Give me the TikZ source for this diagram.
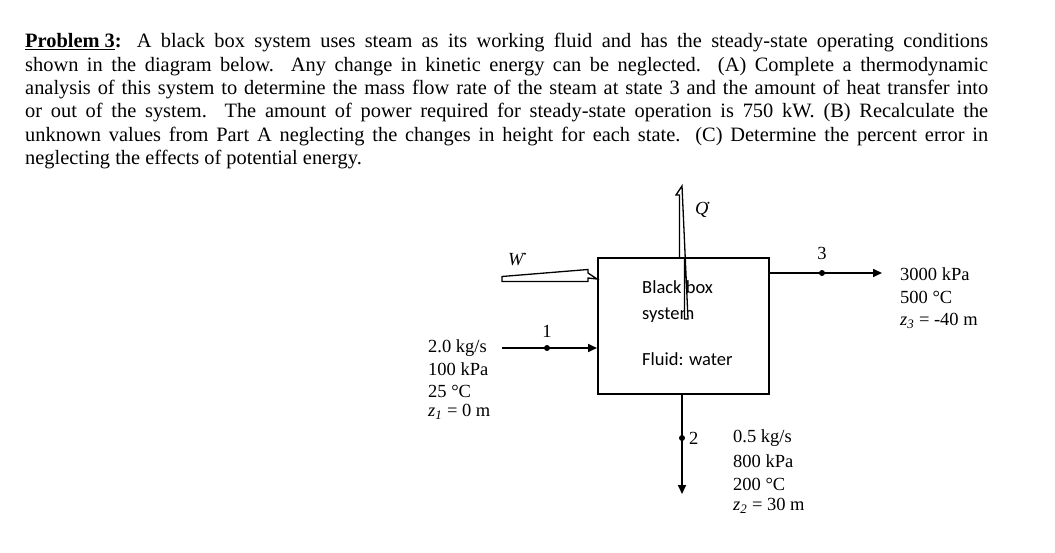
\documentclass[tikz,border=0pt]{standalone}
\usepackage{fontspec}
\setmainfont{Liberation Serif}
\newfontfamily\calfont{Carlito}
\usetikzlibrary{arrows.meta}
\begin{document}
\begin{tikzpicture}[x=1pt,y=-1pt,
  lbl/.style={inner sep=0pt,anchor=west,font=\fontsize{18.5}{20}\selectfont},
  cl/.style={inner sep=0pt,anchor=west,font=\calfont\fontsize{18.5}{20}\selectfont},
  flow/.style={line width=1.6pt,-{Triangle[length=9pt,width=8pt]}},
  dbl/.style={line width=1.3pt,fill=white},
  dot/.style={circle,fill,inner sep=0pt,minimum size=6pt},
  para/.style={inner sep=0pt,anchor=base west,font=\fontsize{20.4}{23}\selectfont}]
\useasboundingbox (0,0) rectangle (1055,553);
\foreach \t [count=\i] in {%
{\underline{\textbf{Problem 3}}\textbf{:} A black box system uses steam as its working fluid and has the steady-state operating conditions},
{shown in the diagram below. Any change in kinetic energy can be neglected. (A) Complete a thermodynamic},
{analysis of this system to determine the mass flow rate of the steam at state 3 and the amount of heat transfer into},
{or out of the system. The amount of power required for steady-state operation is 750 kW. (B) Recalculate the},
{unknown values from Part A neglecting the changes in height for each state. (C) Determine the percent error in}}
  \node[para] (p\i) at (25,{48+23.3*(\i-1)}) {\hbox to 963pt{\t}};
\node[para] (p6) at (25,{48+23.3*5}) {neglecting the effects of potential energy.};
\node[draw,line width=1.6pt,minimum width=171pt,minimum height=136pt,anchor=north west,inner sep=0pt] (box) at (597,257) {};
\node[cl] (t1) at (642,287) {Black box};
\node[cl] (t2) at (642,315) {system};
\node[cl] (t3) at (642,359) {Fluid: water};
% Q
\coordinate (qs) at (682,257);
\coordinate (qe) at (682,186);
\draw[dbl] ([xshift=-2.5pt]qs) -- ++(0,-62) -- ++(-3.5,0) -- (qe) -- ([xshift=6pt,yshift=-62pt]qs) -- ++(-3.5,0) -- ([xshift=2.5pt]qs);
\node[lbl] (ql) at (695,210) {\.{\textit{Q}}};
% W
\coordinate (ws) at (502,279);
\coordinate (we) at (597,279);
\draw[dbl] ([yshift=-2.5pt]ws) -- ([xshift=-9pt,yshift=-2.5pt]we) -- ++(0,-3.5) -- (we) -- ([xshift=-9pt,yshift=6pt]we) -- ++(0,-3.5) -- ([yshift=2.5pt]ws) -- cycle;
\node[lbl] (wl) at (508,260) {\.{\textit{W}}};
% 1
\coordinate (is) at (502,348);
\draw[flow] (is) -- (box.west |- is);
\node[dot] (d1) at (547,348) {};
\node[lbl,anchor=center] (n1) at (547,331) {1};
\node[lbl] (a1) at (428,348) {2.0 kg/s};
\node[lbl] (a2) at (428,369) {100 kPa};
\node[lbl] (a3) at (428,391) {25 °C};
\node[lbl] (a4) at (428,412) {\textit{z}\textsubscript{\textit{1}} = 0 m};
% 3
\coordinate (oe) at (882,273);
\draw[flow] (box.east |- oe) -- (oe);
\node[dot] (d3) at (822,273) {};
\node[lbl,anchor=center] (n3) at (822,253) {3};
\node[lbl] (b1) at (900,274) {3000 kPa};
\node[lbl] (b2) at (900,297) {500 °C};
\node[lbl] (b3) at (900,321) {\textit{z}\textsubscript{\textit{3}} = -40 m};
% 2
\coordinate (de) at (682,494);
\draw[flow] (box.south -| de) -- (de);
\node[dot] (d2) at (682,438) {};
\node[lbl] (n2) at (689,438) {2};
\node[lbl] (c1) at (733,438) {0.5 kg/s};
\node[lbl] (c2) at (733,461) {800 kPa};
\node[lbl] (c3) at (733,484) {200 °C};
\node[lbl] (c4) at (733,506) {\textit{z}\textsubscript{\textit{2}} = 30 m};
\end{tikzpicture}
\end{document}
